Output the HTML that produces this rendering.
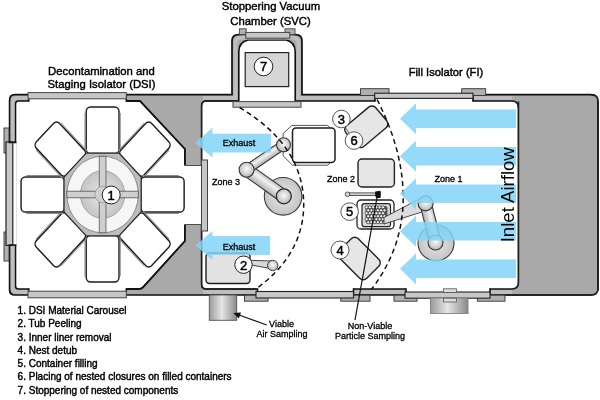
<!DOCTYPE html>
<html><head><meta charset="utf-8">
<style>
html,body{margin:0;padding:0;background:#fff;width:600px;height:400px;overflow:hidden}
svg{display:block;will-change:transform}
text{font-family:"Liberation Sans",sans-serif;fill:#000;stroke:#000;stroke-width:0.42}
</style></head><body>
<svg width="600" height="400" viewBox="0 0 600 400">
<defs>
<linearGradient id="cyl" x1="0" x2="1" y1="0" y2="0">
<stop offset="0" stop-color="#9a9a9a"/><stop offset="0.45" stop-color="#e6e6e6"/><stop offset="1" stop-color="#8a8a8a"/>
</linearGradient>
<radialGradient id="ball" cx="0.5" cy="0.45" r="0.6">
<stop offset="0" stop-color="#fafafa"/><stop offset="0.6" stop-color="#cfcfcf"/><stop offset="1" stop-color="#a8a8a8"/>
</radialGradient>
<radialGradient id="disc" cx="0.5" cy="0.5" r="0.5">
<stop offset="0" stop-color="#e8e8e8"/><stop offset="1" stop-color="#c4c4c4"/>
</radialGradient>
<linearGradient id="armg" x1="0" x2="0" y1="0" y2="1"><stop offset="0" stop-color="#bdbdbd"/><stop offset="0.35" stop-color="#f2f2f2"/><stop offset="1" stop-color="#b0b0b0"/></linearGradient>
</defs>

<!-- ===== Titles ===== -->
<text x="271" y="10.2" font-size="11.3" text-anchor="middle">Stoppering Vacuum</text>
<text x="270.5" y="25.4" font-size="11.3" text-anchor="middle">Chamber (SVC)</text>
<text x="101.5" y="75" font-size="11.3" text-anchor="middle">Decontamination and</text>
<text x="101.5" y="88" font-size="11.3" text-anchor="middle">Staging Isolator (DSI)</text>
<text x="446" y="75.6" font-size="11.2" text-anchor="middle">Fill Isolator (FI)</text>

<!-- ===== Building ===== -->
<path d="M9.6,100 Q9.6,94.7 15,94.7 H232 V41 Q232,34.6 238.5,34.6 H295.5 Q302,34.6 302,41 V94.7 H591 Q598,94.7 598,101.7 V288 Q598,295 591,295 H15 Q9.6,295 9.6,290 Z" fill="#a9a9a9" stroke="#111" stroke-width="1.7"/>
<path d="M15.5,104 Q15.5,101 18.5,101 H140 L185,149 V165 H201.5 V106 Q201.5,101 206.5,101 H238.8 V52 Q238.8,42 248,40 H286 Q295.2,42 295.2,52 V101 H512 Q518.5,101 518.5,107.5 V282.5 Q518.5,289 512,289 H206.5 Q201.5,289 201.5,284 V225 H185 V241 L143,287.3 Q141.5,289 139,289 H18.5 Q15.5,289 15.5,286 Z" fill="#fff" stroke="#111" stroke-width="1.6"/>

<!-- light wall bands -->
<g fill="none" stroke="#bebebe" stroke-width="3.8">
<path d="M12.6,141.5 V103 Q12.6,97.8 17.6,97.8 H127"/>
<path d="M12.6,245.5 V287 Q12.6,292 17.6,292 H127"/>
<path d="M203,97.8 H235.5 V44 Q235.5,37.5 242,37.5 H292 Q298.5,37.5 298.5,44 V97.8 H516"/>
<path d="M203,292 H516"/>
</g>
<!-- re-fill big gray regions over bands -->
<path d="M126,96.2 H201 V165 H185 V149 L140,101 H126 Z" fill="#a9a9a9"/>
<path d="M185,225 H201 V293.8 H126 V289 H139 Q141.5,289 143,287.3 L185,241 Z" fill="#a9a9a9"/>
<path d="M126,101 H140 L185,149 V165 M185,225 V241 L143,287.3 Q141.5,289 139,289 H126" fill="none" stroke="#111" stroke-width="1.8"/>
<path d="M512,96.2 H597 V294 H512 V289 Q518.5,289 518.5,282.5 V107.5 Q518.5,101 512,101 Z" fill="#a9a9a9"/>
<path d="M518.5,101.5 V282.5 Q518.5,289 512,289" fill="none" stroke="#1e1e1e" stroke-width="1.5"/>
<path d="M591,94.7 Q598,94.7 598,101.7 V288 Q598,295 591,295 H505" fill="none" stroke="#1e1e1e" stroke-width="1.5"/>
<path d="M512,101 Q518.5,101 518.5,107.5" fill="none" stroke="#1e1e1e" stroke-width="1.5"/>
<path d="M201.5,225 V284 Q201.5,289 206.5,289 H256 M201.5,165 V106 Q201.5,101 206.5,101 H238.8" fill="none" stroke="#1e1e1e" stroke-width="1.5"/>

<!-- DSI left door + side strips -->
<rect x="8" y="142.4" width="8.6" height="102.6" fill="#fff"/>
<rect x="4" y="128" width="5" height="25" fill="#b0b0b0" stroke="#333" stroke-width="0.9"/>
<rect x="4" y="232" width="5" height="29" fill="#b0b0b0" stroke="#333" stroke-width="0.9"/>
<rect x="6" y="142" width="6.8" height="103.4" fill="#c8c8c8" stroke="#222" stroke-width="1.2"/>
<path d="M8.6,142.4 H16.4 M8.6,245 H16.4" stroke="#111" stroke-width="1.6"/>
<!-- DSI top / bottom doors -->
<rect x="28.8" y="95.5" width="97.4" height="6.8" fill="#fff"/>
<rect x="28.8" y="287.8" width="97.4" height="6.5" fill="#fff"/>
<path d="M126.3,288.3 V292 M126.3,94.5 V101.8 M28.8,94.5 V101.8 M28.8,288.3 V294.5" stroke="#111" stroke-width="1.5"/>
<rect x="28" y="92.6" width="98.3" height="6.2" fill="#c6c6c6" stroke="#444" stroke-width="1"/>
<rect x="28" y="291.2" width="98.3" height="6.6" fill="#c6c6c6" stroke="#444" stroke-width="1"/>

<!-- SVC flange, tabs -->
<rect x="239.4" y="28.8" width="6.8" height="5.8" fill="#b0b0b0" stroke="#444" stroke-width="0.9"/>
<rect x="285" y="28.8" width="10" height="5.8" fill="#b0b0b0" stroke="#444" stroke-width="0.9"/>
<rect x="245.8" y="32.4" width="44" height="5.8" fill="#c6c6c6" stroke="#444" stroke-width="1"/>
<rect x="233" y="101.6" width="68" height="5.6" fill="#c6c6c6" stroke="#444" stroke-width="1"/>
<!-- SVC inner box -->
<rect x="245.2" y="52.6" width="43.5" height="34" fill="#d6d6d6" stroke="#222" stroke-width="1.2"/>
<circle cx="263.5" cy="66.5" r="9.3" fill="#fff" stroke="#222" stroke-width="1"/>
<text x="263.5" y="71" font-size="13" text-anchor="middle" style="stroke-width:0.45">7</text>

<!-- FI top door & tabs -->
<rect x="375.5" y="94" width="97" height="8.5" fill="#fff"/>
<path d="M375,94.7 V101.5 M473,94.7 V101.5" stroke="#111" stroke-width="1.6"/>
<rect x="360.5" y="88.7" width="28.5" height="6.8" fill="#b0b0b0" stroke="#333" stroke-width="0.9"/>
<rect x="461.7" y="88.7" width="24" height="6.8" fill="#b0b0b0" stroke="#333" stroke-width="0.9"/>
<rect x="374.7" y="93.2" width="98.3" height="5.2" fill="#c8c8c8" stroke="#222" stroke-width="1.1"/>

<!-- FI left door -->
<rect x="201.5" y="160" width="6" height="71" fill="#c6c6c6" stroke="#444" stroke-width="1"/>

<!-- FI bottom doors & tabs -->
<rect x="257.5" y="287.5" width="96" height="8.5" fill="#fff"/>
<rect x="406" y="287.5" width="84" height="8.5" fill="#fff"/>
<path d="M257.5,288.3 V294.5 M353.5,288.3 V294.5 M406,288.3 V294.5 M490,288.3 V294.5" stroke="#111" stroke-width="1.6"/>
<rect x="244.5" y="295.2" width="23.5" height="6" fill="#b0b0b0" stroke="#333" stroke-width="0.9"/>
<rect x="340.8" y="295.2" width="29.2" height="6" fill="#b0b0b0" stroke="#333" stroke-width="0.9"/>
<rect x="394" y="295.2" width="23" height="6" fill="#b0b0b0" stroke="#333" stroke-width="0.9"/>
<rect x="477.4" y="295.2" width="27.6" height="6" fill="#b0b0b0" stroke="#333" stroke-width="0.9"/>
<rect x="256" y="291.5" width="97.5" height="6.5" fill="#c8c8c8" stroke="#222" stroke-width="1.1"/>
<rect x="405" y="292" width="85" height="6.2" fill="#c8c8c8" stroke="#222" stroke-width="1.1"/>

<!-- sampling cylinders -->
<rect x="209.3" y="295" width="27.4" height="25.3" fill="url(#cyl)" stroke="#555" stroke-width="0.9"/>
<rect x="430.5" y="298" width="37.5" height="15.6" fill="url(#cyl)" stroke="#777" stroke-width="0.8"/>
<rect x="443.5" y="288.8" width="13" height="3.6" fill="#dcdcdc" stroke="#555" stroke-width="0.8"/>
<rect x="443.5" y="298.2" width="13" height="3.8" fill="#dcdcdc" stroke="#555" stroke-width="0.8"/>

<!-- ===== DSI carousel ===== -->
<g transform="translate(102.6,194.5) scale(0.965,1.035)">
<g id="arm">
<rect x="-17" y="-84.5" width="34" height="45" rx="4.5" fill="#fff" stroke="#1e1e1e" stroke-width="1.5"/>
<path d="M-18.3,-79 V-41 M18.3,-79 V-41" fill="none" stroke="#8a8a8a" stroke-width="1"/>
</g>
<use href="#arm" transform="rotate(45)"/>
<use href="#arm" transform="rotate(90)"/>
<use href="#arm" transform="rotate(135)"/>
<use href="#arm" transform="rotate(180)"/>
<use href="#arm" transform="rotate(225)"/>
<use href="#arm" transform="rotate(270)"/>
<use href="#arm" transform="rotate(315)"/>
<polygon points="17,-40 40,-17 40,17 17,40 -17,40 -40,17 -40,-17 -17,-40" fill="#bdbdbd" stroke="#2a2a2a" stroke-width="1.3"/>
<circle r="37" fill="#f6f6f6" stroke="#777" stroke-width="0.8"/>
<circle r="23" fill="url(#disc)" stroke="#999" stroke-width="0.8"/>
<rect x="-3.5" y="-37" width="7" height="74" fill="#cfcfcf" stroke="#555" stroke-width="0.8"/>
<rect x="-37" y="-3.2" width="74" height="6.4" fill="#cfcfcf" stroke="#555" stroke-width="0.8"/>
<circle cx="0" cy="0" r="8" fill="#d0d0d0" stroke="#888" stroke-width="0.6"/>
</g>
<circle cx="111.2" cy="195" r="9" fill="#fff" stroke="#222" stroke-width="1"/>
<text x="111.2" y="199.8" font-size="13" text-anchor="middle" style="stroke-width:0.45">1</text>

<!-- ===== Zone 3 ===== -->
<!-- tub peeling box -->
<rect x="206" y="253" width="44" height="30.5" rx="3.5" fill="#e2e2e2" stroke="#1e1e1e" stroke-width="1.4"/>
<polygon points="250,260.3 271,261 271,268.6 250,264.8" fill="#d8d8d8" stroke="#333" stroke-width="0.9"/>
<circle cx="272.7" cy="265.5" r="5.2" fill="url(#ball)" stroke="#3a3a3a" stroke-width="1"/>
<circle cx="243.5" cy="264.7" r="8.7" fill="#fff" stroke="#222" stroke-width="1"/>
<text x="243.5" y="269.5" font-size="13" text-anchor="middle" style="stroke-width:0.45">2</text>
<!-- robot arm zone 3 -->
<polygon points="283.1,133.5 291.9,125.4 327.6,125.4 331,128.5 331,162 327.6,165.2 292.5,165.2 283.1,155.8" fill="#fff" stroke="#555" stroke-width="1"/>
<rect x="292.5" y="128.1" width="42.5" height="34.4" rx="3.5" fill="#fff" stroke="#1e1e1e" stroke-width="1.5"/>
<circle cx="283.1" cy="196.3" r="18.8" fill="url(#disc)" stroke="#3a3a3a" stroke-width="1.1"/>
<g transform="translate(246.6,169.7) rotate(35.6)"><rect x="0" y="-6.25" width="45.7" height="12.5" fill="url(#armg)" stroke="#3a3a3a" stroke-width="1.1"/></g>
<g transform="translate(246.6,169.7) rotate(-34.0)"><rect x="0" y="-4.40" width="44.5" height="8.8" fill="url(#armg)" stroke="#3a3a3a" stroke-width="1.1"/></g>
<circle cx="283.8" cy="196.3" r="7.5" fill="url(#ball)" stroke="#2a2a2a" stroke-width="1.3"/>
<circle cx="246.6" cy="169.7" r="7.5" fill="url(#ball)" stroke="#3a3a3a" stroke-width="1.1"/>
<circle cx="283.5" cy="144.8" r="7" fill="url(#ball)" stroke="#3a3a3a" stroke-width="1.1"/>
<text x="212" y="184.8" font-size="9" style="stroke-width:0.3">Zone 3</text>

<!-- ===== Zone 2 ===== -->
<rect x="358" y="159" width="36.4" height="28" rx="4" fill="#e6e6e6" stroke="#222" stroke-width="1.4"/>
<text x="327" y="181.8" font-size="9" style="stroke-width:0.3">Zone 2</text>
<!-- 3 / 6 -->
<g transform="translate(366.3,126.8) rotate(-40)">
<rect x="-19.5" y="-13.5" width="39" height="27" rx="5" fill="#e6e6e6" stroke="#222" stroke-width="1.4"/>
</g>
<line x1="345" y1="127" x2="349" y2="133" stroke="#444" stroke-width="0.8"/>
<circle cx="341.4" cy="119" r="8.8" fill="#fff" stroke="#444" stroke-width="0.9"/>
<text x="341.4" y="123.8" font-size="13" text-anchor="middle" style="stroke-width:0.45">3</text>
<circle cx="354" cy="140.6" r="8.8" fill="#fff" stroke="#444" stroke-width="0.9"/>
<text x="354" y="145.4" font-size="13" text-anchor="middle" style="stroke-width:0.45">6</text>
<!-- 4 -->
<g transform="translate(359,258.5) rotate(45)">
<rect x="-19.5" y="-13.5" width="39" height="27" rx="5" fill="#e6e6e6" stroke="#222" stroke-width="1.4"/>
</g>
<circle cx="340" cy="250" r="9" fill="#fff" stroke="#444" stroke-width="0.9"/>
<text x="340" y="254.8" font-size="13" text-anchor="middle" style="stroke-width:0.45">4</text>
<!-- 5 -->
<rect x="349" y="192.9" width="27" height="2.6" fill="#d4d4d4" stroke="#333" stroke-width="0.8"/>
<circle cx="347.5" cy="194.3" r="2.3" fill="#dcdcdc" stroke="#333" stroke-width="0.8"/>
<path d="M375.2,191.5 L380.5,190.8 Q381.5,194.5 380.5,198 L376,198 Q374.8,194.5 375.2,191.5 Z" fill="#111"/>
<rect x="357" y="200" width="37" height="29" rx="4" fill="#fff" stroke="#222" stroke-width="1.3"/>
<rect x="362" y="203.7" width="28.5" height="23" rx="2.5" fill="#dadada" stroke="#222" stroke-width="1.2"/>
<rect x="365.5" y="206" width="22" height="17.5" rx="2" fill="#555"/>
<g fill="#eeeeee" stroke="#222" stroke-width="0.6"><circle cx="366.6" cy="207.3" r="1.6"/><circle cx="369.9" cy="207.3" r="1.6"/><circle cx="373.1" cy="207.3" r="1.6"/><circle cx="376.4" cy="207.3" r="1.6"/><circle cx="379.6" cy="207.3" r="1.6"/><circle cx="382.9" cy="207.3" r="1.6"/><circle cx="368.2" cy="210.3" r="1.6"/><circle cx="371.4" cy="210.3" r="1.6"/><circle cx="374.7" cy="210.3" r="1.6"/><circle cx="377.9" cy="210.3" r="1.6"/><circle cx="381.2" cy="210.3" r="1.6"/><circle cx="384.4" cy="210.3" r="1.6"/><circle cx="366.6" cy="213.2" r="1.6"/><circle cx="369.9" cy="213.2" r="1.6"/><circle cx="373.1" cy="213.2" r="1.6"/><circle cx="376.4" cy="213.2" r="1.6"/><circle cx="379.6" cy="213.2" r="1.6"/><circle cx="382.9" cy="213.2" r="1.6"/><circle cx="368.2" cy="216.2" r="1.6"/><circle cx="371.4" cy="216.2" r="1.6"/><circle cx="374.7" cy="216.2" r="1.6"/><circle cx="377.9" cy="216.2" r="1.6"/><circle cx="381.2" cy="216.2" r="1.6"/><circle cx="384.4" cy="216.2" r="1.6"/><circle cx="366.6" cy="219.2" r="1.6"/><circle cx="369.9" cy="219.2" r="1.6"/><circle cx="373.1" cy="219.2" r="1.6"/><circle cx="376.4" cy="219.2" r="1.6"/><circle cx="379.6" cy="219.2" r="1.6"/><circle cx="382.9" cy="219.2" r="1.6"/><circle cx="368.2" cy="222.2" r="1.6"/><circle cx="371.4" cy="222.2" r="1.6"/><circle cx="374.7" cy="222.2" r="1.6"/><circle cx="377.9" cy="222.2" r="1.6"/><circle cx="381.2" cy="222.2" r="1.6"/><circle cx="384.4" cy="222.2" r="1.6"/></g>
<circle cx="349.6" cy="211.6" r="8.8" fill="#fff" stroke="#444" stroke-width="0.9"/>
<text x="349.6" y="216.4" font-size="13" text-anchor="middle" style="stroke-width:0.45">5</text>

<!-- ===== Zone 1 arm ===== -->
<polygon points="384,217.5 421,198 425,211 384,224" fill="#dcdcdc" stroke="#3a3a3a" stroke-width="0.9"/>
<circle cx="436" cy="243" r="18" fill="url(#disc)" stroke="#3a3a3a" stroke-width="1.1"/>
<g transform="translate(425.6,203.4) rotate(75.8)"><rect x="0" y="-5.75" width="40.3" height="11.5" fill="url(#armg)" stroke="#3a3a3a" stroke-width="1.1"/></g>
<circle cx="435.5" cy="242.5" r="7.5" fill="url(#ball)" stroke="#3a3a3a" stroke-width="1.1"/>
<circle cx="425.6" cy="203.4" r="7.5" fill="url(#ball)" stroke="#3a3a3a" stroke-width="1.1"/>
<text x="434.5" y="182.4" font-size="9" style="stroke-width:0.3">Zone 1</text>

<!-- dashed zone arcs -->
<path d="M239.6,107.5 L244.6,110.6 L249.3,113.7 L253.7,116.8 L257.9,119.8 L261.8,122.9 L265.5,126.0 L269.0,129.1 L272.2,132.2 L275.2,135.3 L278.1,138.3 L280.7,141.4 L283.1,144.5 L285.4,147.6 L287.5,150.7 L289.5,153.8 L291.3,156.9 L293.0,159.9 L294.5,163.0 L295.9,166.1 L297.1,169.2 L298.3,172.3 L299.3,175.4 L300.2,178.4 L301.0,181.5 L301.7,184.6 L302.3,187.7 L302.8,190.8 L303.2,193.9 L303.4,197.0 L303.6,200.0 L303.7,203.1 L303.7,206.2 L303.6,209.3 L303.4,212.4 L303.1,215.5 L302.7,218.6 L302.2,221.6 L301.6,224.7 L300.8,227.8 L300.0,230.9 L299.0,234.0 L298.0,237.1 L296.8,240.1 L295.4,243.2 L294.0,246.3 L292.4,249.4 L290.6,252.5 L288.7,255.6 L286.6,258.7 L284.4,261.7 L282.0,264.8 L279.4,267.9 L276.6,271.0 L273.6,274.1 L270.4,277.2 L267.0,280.2 L263.3,283.3 L259.4,286.4 L255.2,289.5" fill="none" stroke="#111" stroke-width="1.5" stroke-dasharray="5,3.6"/>
<path d="M377.0,99.5 L378.7,102.7 L380.3,105.9 L381.8,109.2 L383.3,112.4 L384.7,115.6 L386.1,118.8 L387.5,122.0 L388.7,125.3 L390.0,128.5 L391.1,131.7 L392.3,134.9 L393.3,138.1 L394.3,141.4 L395.3,144.6 L396.2,147.8 L397.1,151.0 L397.9,154.2 L398.6,157.5 L399.3,160.7 L400.0,163.9 L400.5,167.1 L401.1,170.3 L401.5,173.6 L402.0,176.8 L402.3,180.0 L402.6,183.2 L402.8,186.4 L403.0,189.7 L403.1,192.9 L403.2,196.1 L403.2,199.3 L403.1,202.6 L403.0,205.8 L402.8,209.0 L402.5,212.2 L402.1,215.4 L401.7,218.7 L401.2,221.9 L400.7,225.1 L400.0,228.3 L399.3,231.5 L398.5,234.8 L397.6,238.0 L396.7,241.2 L395.7,244.4 L394.5,247.6 L393.3,250.9 L392.0,254.1 L390.6,257.3 L389.2,260.5 L387.6,263.7 L385.9,267.0 L384.1,270.2 L382.3,273.4 L380.3,276.6 L378.2,279.8 L376.0,283.1 L373.7,286.3 L371.3,289.5" fill="none" stroke="#111" stroke-width="1.5" stroke-dasharray="5,3.6"/>
<!-- particle sampling line -->
<line x1="377.5" y1="195" x2="355" y2="320" stroke="#111" stroke-width="1.2"/>

<!-- ===== Airflow arrows ===== -->
<g fill="#84d4f8" fill-opacity="0.85">
<path id="ar" d="M400,118.75 L416,103.3 V109.5 H516 V128 H416 V134.2 Z"/>
<use href="#ar" y="37.5"/>
<use href="#ar" y="75"/>
<use href="#ar" y="112.5"/>
<use href="#ar" y="150"/>
<path d="M195.5,143 L212.5,127.5 V133.8 H271 V152.5 H212.5 V157.5 Z"/>
<path d="M195.5,245.5 L212.5,231 V236 H270 V255 H212.5 V260 Z"/>
</g>
<text x="239" y="146" font-size="9" text-anchor="middle" style="stroke-width:0.3">Exhaust</text>
<text x="239" y="249.8" font-size="9" text-anchor="middle" style="stroke-width:0.3">Exhaust</text>
<text transform="translate(514.3,242.3) rotate(-90)" font-size="18.6" style="stroke:none">Inlet Airflow</text>

<!-- ===== Sampling labels ===== -->
<line x1="266.7" y1="325" x2="239" y2="315" stroke="#111" stroke-width="1.3"/>
<polygon points="233.3,313 238.8,318.4 241,312.4" fill="#111"/>
<text x="281.5" y="326.6" font-size="9" text-anchor="middle" style="stroke-width:0.3">Viable</text>
<text x="282" y="336.6" font-size="9" text-anchor="middle" style="stroke-width:0.3">Air Sampling</text>
<text x="370" y="329.3" font-size="9" text-anchor="middle" style="stroke-width:0.3">Non-Viable</text>
<text x="370" y="338.8" font-size="9" text-anchor="middle" style="stroke-width:0.3">Particle Sampling</text>

<!-- ===== Legend ===== -->
<g font-size="10" style="stroke-width:0.4">
<text x="17.6" y="314.2">1. DSI Material Carousel</text>
<text x="17.6" y="327.4">2. Tub Peeling</text>
<text x="17.6" y="340.7">3. Inner liner removal</text>
<text x="17.6" y="353.9">4. Nest detub</text>
<text x="17.6" y="367.2">5. Container filling</text>
<text x="17.6" y="380.4">6. Placing of nested closures on filled containers</text>
<text x="17.6" y="393.7">7. Stoppering of nested components</text>
</g>
</svg>
</body></html>
